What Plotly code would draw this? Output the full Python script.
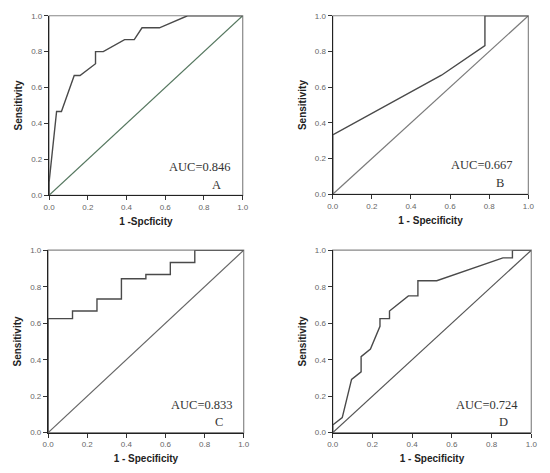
import plotly.graph_objects as go

# ROC curve points (1 - specificity, sensitivity)
a_fpr = [0, 0, 0.039, 0.064, 0.13, 0.16, 0.24, 0.24, 0.28, 0.39, 0.44, 0.48, 0.57, 0.715, 1.0]
a_tpr = [0, 0.07, 0.467, 0.467, 0.667, 0.667, 0.733, 0.8, 0.8, 0.867, 0.867, 0.933, 0.933, 1.0, 1.0]

b_fpr = [0, 0, 0.556, 0.778, 0.778, 1.0]
b_tpr = [0, 0.333, 0.667, 0.833, 1.0, 1.0]

c_fpr = [0, 0, 0.125, 0.125, 0.25, 0.25, 0.375, 0.375, 0.5, 0.5, 0.625, 0.625, 0.75, 0.75, 1.0]
c_tpr = [0, 0.625, 0.625, 0.667, 0.667, 0.733, 0.733, 0.844, 0.844, 0.867, 0.867, 0.933, 0.933, 1.0, 1.0]

d_fpr = [0, 0, 0.048, 0.095, 0.143, 0.143, 0.19, 0.238, 0.238, 0.286, 0.286, 0.381, 0.429, 0.429,
         0.524, 0.857, 0.905, 0.905, 1.0]
d_tpr = [0, 0.042, 0.083, 0.292, 0.333, 0.417, 0.458, 0.583, 0.625, 0.625, 0.667, 0.75, 0.75, 0.833,
         0.833, 0.958, 0.958, 1.0, 1.0]

panels = ['A', 'B', 'C', 'D']
auc_values = ['0.846', '0.667', '0.833', '0.724']
x_titles = ['1 -Spcficity', '1 - Specificity', '1 - Specificity', '1 - Specificity']
diag_colors = ['#55775f', '#7a7a7a', '#666666', '#555555']
curves = [(a_fpr, a_tpr), (b_fpr, b_tpr), (c_fpr, c_tpr), (d_fpr, d_tpr)]

W, H = 550, 473
# plot boxes in pixels: left, right, top, bottom
boxes = [(44, 242, 12, 195), (334, 534, 12, 194), (43, 243, 251, 437), (334, 537, 251, 437)]
auc_pos = [(0.78, 0.158), (0.763, 0.165), (0.788, 0.153), (0.775, 0.152)]
letter_pos = [(0.864, 0.058), (0.855, 0.066), (0.873, 0.057), (0.858, 0.059)]

fig = go.Figure()
layout = dict(
    width=W, height=H,
    margin=dict(l=0, r=0, t=0, b=0),
    paper_bgcolor='white', plot_bgcolor='white',
    showlegend=False,
    font=dict(family='Liberation Sans, Arial, sans-serif', color='#333'),
)
annotations = []
shapes = []

for i, (fpr, tpr) in enumerate(curves):
    n = '' if i == 0 else str(i + 1)
    xa, ya = 'x' + n, 'y' + n
    left, right, top, bottom = boxes[i]
    fig.add_trace(go.Scatter(x=[0, 1], y=[0, 1], xaxis=xa, yaxis=ya, mode='lines',
                             line=dict(color=diag_colors[i], width=1.2)))
    fig.add_trace(go.Scatter(x=fpr, y=tpr, xaxis=xa, yaxis=ya, mode='lines',
                             line=dict(color='#4a4a4a', width=1.4)))
    common = dict(range=[0, 1], tickvals=[0, 0.2, 0.4, 0.6, 0.8, 1.0],
                  ticktext=['0.0', '0.2', '0.4', '0.6', '0.8', '1.0'],
                  showgrid=False, zeroline=False, showline=True, linecolor='#222', linewidth=1.3,
                  ticks='outside', ticklen=4, tickcolor='#333',
                  tickfont=dict(size=8, color='#666'))
    layout['xaxis' + n] = dict(common, domain=[left / W, right / W], anchor=ya,
                               title=dict(text='<b>' + x_titles[i] + '</b>', font=dict(size=10, color='#222'),
                                          standoff=6))
    layout['yaxis' + n] = dict(common, domain=[1 - bottom / H, 1 - top / H], anchor=xa,
                               title=dict(text='<b>Sensitivity</b>', font=dict(size=10, color='#222'),
                                          standoff=6))
    shapes.append(dict(type='rect', xref=xa + ' domain', yref=ya + ' domain', x0=0, x1=1, y0=0, y1=1,
                       line=dict(color='#888', width=1.2), layer='below'))
    annotations.append(dict(xref=xa, yref=ya, x=auc_pos[i][0], y=auc_pos[i][1], showarrow=False,
                            text='AUC=' + auc_values[i],
                            font=dict(family='Liberation Serif, Times New Roman, serif', size=12.5, color='#333')))
    annotations.append(dict(xref=xa, yref=ya, x=letter_pos[i][0], y=letter_pos[i][1], showarrow=False,
                            text=panels[i],
                            font=dict(family='Liberation Serif, Times New Roman, serif', size=12.5, color='#333')))

layout['annotations'] = annotations
layout['shapes'] = shapes
fig.update_layout(**layout)
# the page body has a default 8px margin; drop it so the figure sits at the window corner
fig.write_html('out.html', config={'displayModeBar': False},
               post_script="document.body.style.margin='0';")
